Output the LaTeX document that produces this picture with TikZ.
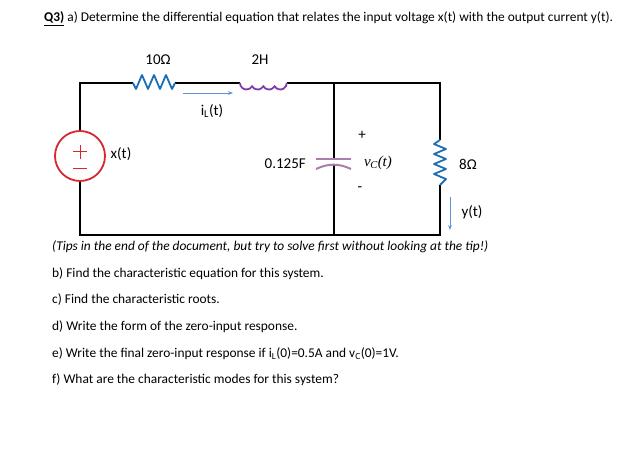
\documentclass[tikz,border=0pt]{standalone}
\usepackage{fontspec}
\setmainfont{Carlito}
\newfontfamily\tms{Liberation Serif}
\usetikzlibrary{arrows.meta}
\definecolor{rblue}{RGB}{30,110,180}
\definecolor{lpurp}{RGB}{130,60,170}
\definecolor{cpurp}{RGB}{170,125,170}
\definecolor{sred}{RGB}{215,40,50}
\definecolor{abl}{RGB}{90,150,215}
\tikzset{wire/.style={line width=1.8pt,black},
 res/.style={line width=1.8pt,rblue,line join=round},
 lbl/.style={font=\fontsize{15}{17}\selectfont,inner sep=0pt},
 txt/.style={font=\fontsize{13.4}{15}\selectfont,anchor=west,inner sep=0pt},
 carr/.style={abl,line width=0.9pt,-{Stealth[length=5pt]}}}
\begin{document}
\begin{tikzpicture}[x=1pt,y=-1pt]
\useasboundingbox (0,0) rectangle (635,465);
\fill[white] (0,0) rectangle (635,465);
% header
\node[txt,font=\fontsize{13.4}{15}\selectfont] (hdr) at (44,19) {\underline{\textbf{Q3)}} a) Determine the differential equation that relates the input voltage x(t) with the output current y(t).};
% wires
\coordinate (tl) at (80,83); \coordinate (bl) at (80,235);
\coordinate (tm) at (334,83); \coordinate (bm) at (334,235);
\coordinate (tr) at (440,83); \coordinate (br) at (440,235);
\draw[wire] (80,131) -- (tl) -- (133,83);
\draw[wire] (175,83) -- (240,83);
\draw[wire] (287,83) -- (tm) -- (tr) -- (440,140);
\draw[wire] (440,185) -- (br) -- (bl) -- (80,181);
\draw[wire] (tm) -- (334,159); \draw[wire] (334,165) -- (bm);
% 10 ohm
\draw[res] (133,83) -- (136,89) -- (142,75) -- (148,89) -- (154,75) -- (160,89) -- (166,75) -- (172,89) -- (175,83);
\node[lbl] (r1) at (158,60) {10Ω};
% inductor
\draw[lpurp,line width=1.8pt] (240,83) arc[start angle=180,end angle=30,radius=6.5]
  arc[start angle=150,end angle=30,radius=6.5] arc[start angle=150,end angle=30,radius=6.5]
  arc[start angle=150,end angle=0,radius=6.5];
\node[lbl] (l1) at (260,60) {2H};
% iL arrow
\coordinate (ia) at (183,93); \coordinate (ib) at (233,93);
\draw[carr] (ia) -- (ib);
\node[lbl] (il) at (212,111) {i\textsubscript{L}(t)};
% capacitor
\draw[cpurp,line width=2pt] (316,159) -- (351,159);
\draw[cpurp,line width=2pt] (316,169) to[bend left=25] (351,169);
\node[lbl,anchor=east] (cl) at (306,164) {0.125F};
\node[lbl] (vp) at (362,135) {+};
\node[lbl] (vc) at (378,163) {\tms\itshape v\textsubscript{\kern-0.5pt C}(t)};
\node[lbl] (vm) at (360,189) {-};
% 8 ohm
\draw[res] (440,140) -- (434,144) -- (446,149) -- (434,154) -- (446,159) -- (434,164) -- (446,169) -- (434,174) -- (446,179) -- (440,185);
\node[lbl] (r2) at (468,164) {8Ω};
\coordinate (ya) at (450,197); \coordinate (yb) at (450,230);
\draw[carr] (ya) -- (yb);
\node[lbl] (yl) at (472,212) {y(t)};
% source
\node[draw=sred,line width=1.8pt,circle,minimum size=50pt,inner sep=0pt] (src) at (80,156) {};
\draw[sred,line width=1pt] (73,152) -- (87,152) (80,145) -- (80,159);
\draw[sred,line width=1pt] (73,169) -- (87,169);
\node[lbl] (xl) at (121,154) {x(t)};
% text
\node[txt,font=\fontsize{13.4}{15}\selectfont\itshape] (t0) at (52,247) {(Tips in the end of the document, but try to solve first without looking at the tip!)};
\node[txt] (tb) at (52,274) {b) Find the characteristic equation for this system.};
\node[txt] (tc) at (52,300) {c) Find the characteristic roots.};
\node[txt] (td) at (52,327) {d) Write the form of the zero-input response.};
\node[txt] (te) at (52,354) {e) Write the final zero-input response if i\textsubscript{L}(0)=0.5A and v\textsubscript{C}(0)=1V.};
\node[txt] (tf) at (52,380) {f) What are the characteristic modes for this system?};
\end{tikzpicture}
\end{document}
